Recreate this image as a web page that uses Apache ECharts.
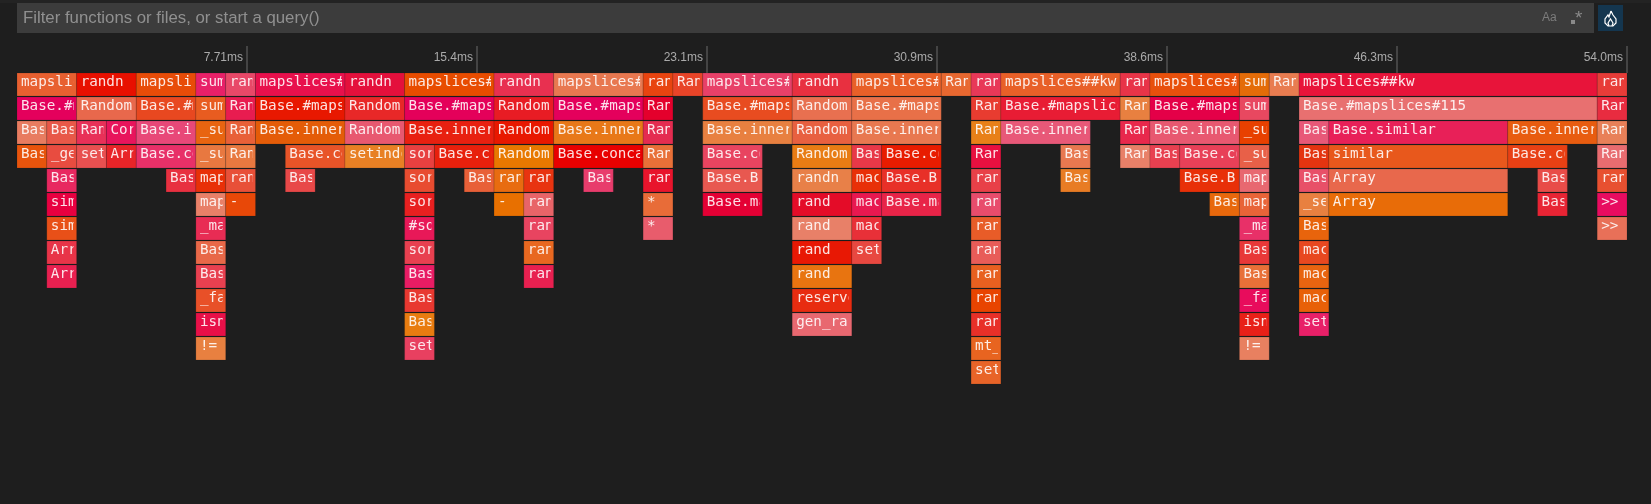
<!DOCTYPE html>
<html><head><meta charset="utf-8">
<style>html,body{margin:0;padding:0;background:#1e1e1e}#c{width:1651px;height:504px}</style>
<script src="https://cdn.jsdelivr.net/npm/echarts@6/dist/echarts.min.js"></script>
</head><body><div id="c"></div>
<script>
const tickValues=[7.714,15.429,23.143,30.857,38.571,46.286,54.0];
const tickLabels=['7.71ms','15.4ms','23.1ms','30.9ms','38.6ms','46.3ms','54.0ms'];
// each frame: [start sample, end sample, name, colour]
const row0=[[0,2,'mapslices##kw','#e86030'],[2,4,'randn','#e81000'],[4,6,'mapslices##kw','#e84c08'],[6,7,'sum','#e82068'],[7,8,'randn','#e84868'],[8,11,'mapslices##kw','#e8104c'],[11,13,'randn','#e4103c'],[13,16,'mapslices##kw','#e84c00'],[16,18,'randn','#e83050'],[18,21,'mapslices##kw','#e87850'],[21,22,'randn','#e84410'],[22,23,'Random','#e84428'],[23,26,'mapslices##kw','#e84068'],[26,28,'randn','#e83040'],[28,31,'mapslices##kw','#e86028'],[31,32,'Random','#e86830'],[32,33,'randn','#e83858'],[33,37,'mapslices##kw','#e86028'],[37,38,'randn','#e83448'],[38,41,'mapslices##kw','#e8500c'],[41,42,'sum','#e46c08'],[42,43,'Random','#e87c50'],[43,53,'mapslices##kw','#e8143a'],[53,54,'randn','#e83c38']];
const row1=[[0,2,'Base.#mapslices#115','#e4005c'],[2,4,'Random','#e8684c'],[4,6,'Base.#mapslices#115','#e84820'],[6,7,'sum','#e85c20'],[7,8,'Random','#e81c50'],[8,11,'Base.#mapslices#115','#e81800'],[11,13,'Random','#e82828'],[13,16,'Base.#mapslices#115','#e4005a'],[16,18,'Random','#e81c24'],[18,21,'Base.#mapslices#115','#e4005c'],[21,22,'Random','#e4002c'],[23,26,'Base.#mapslices#115','#e84c20'],[26,28,'Random','#e87050'],[28,31,'Base.#mapslices#115','#e87048'],[32,33,'Random','#e83c30'],[33,37,'Base.#mapslices#115','#e81c34'],[37,38,'Random','#e88040'],[38,41,'Base.#mapslices#115','#e40048'],[41,42,'sum','#e84860'],[43,53,'Base.#mapslices#115','#e87070'],[53,54,'Random','#e82c40']];
const row2=[[0,1,'Base.inner','#e87c60'],[1,2,'Base.similar','#e85848'],[2,3,'Random','#e83058'],[3,4,'Core','#e8145c'],[4,6,'Base.inner','#e84878'],[6,7,'_sum','#e86410'],[7,8,'Random','#e86038'],[8,11,'Base.inner_mapslices','#e45c08'],[11,13,'Random','#e85870'],[13,16,'Base.inner_mapslices','#e82010'],[16,18,'Random','#e81800'],[18,21,'Base.inner_mapslices','#e87818'],[21,22,'Random','#e42c50'],[23,26,'Base.inner_mapslices','#e88040'],[26,28,'Random','#e86040'],[28,31,'Base.inner_mapslices','#e87850'],[32,33,'Random','#e88018'],[33,36,'Base.inner_mapslices','#e85878'],[37,38,'Random','#e8284c'],[38,41,'Base.inner_mapslices','#e85870'],[41,42,'_sum','#e84000'],[43,44,'Base.similar','#e85878'],[44,50,'Base.similar','#e82058'],[50,53,'Base.inner_mapslices','#e85c10'],[53,54,'Random','#e88058']];
const row3=[[0,1,'Base.concat','#e8540c'],[1,2,'_get','#e84c40'],[2,3,'setindex','#e85050'],[3,4,'Array','#e82428'],[4,6,'Base.concat','#e83068'],[6,7,'_sum','#e87840'],[7,8,'Random','#e87840'],[9,11,'Base.concat','#e85428'],[11,13,'setindex','#e88024'],[13,14,'sort','#e84040'],[14,16,'Base.concat','#e8200c'],[16,18,'Random','#e87800'],[18,21,'Base.concat','#e80000'],[21,22,'Random','#e87038'],[23,25,'Base.concat','#e84460'],[26,28,'Random','#e87c14'],[28,29,'Base.concat','#e83848'],[29,31,'Base.concat','#e81c00'],[32,33,'Random','#e81040'],[35,36,'Base.concat','#e87850'],[37,38,'Random','#e88068'],[38,39,'Base.concat','#e84050'],[39,41,'Base.concat','#e84058'],[41,42,'_sum','#e86048'],[43,44,'Base.similar','#e43410'],[44,50,'similar','#e8581c'],[50,52,'Base.concat','#e84014'],[53,54,'Random','#e86c70']];
const row4=[[1,2,'Base.similar','#e82860'],[5,6,'Base.Broadcast','#e83040'],[6,7,'mapreduce','#e83008'],[7,8,'randn','#e85038'],[9,10,'Base.Broadcast','#e84848'],[13,14,'sort','#e84c30'],[15,16,'Base.Broadcast','#e86038'],[16,17,'randn','#e86c10'],[17,18,'randn','#e83410'],[19,20,'Base.Broadcast','#e83c6c'],[21,22,'randn','#e8142c'],[23,25,'Base.Broadcast','#e85850'],[26,28,'randn','#e88048'],[28,29,'macro','#e83008'],[29,31,'Base.Broadcast','#e83028'],[32,33,'randn','#e84048'],[35,36,'Base.Broadcast','#e87c24'],[39,41,'Base.Broadcast','#e83008'],[41,42,'mapreduce','#e86870'],[43,44,'Base.similar','#e85068'],[44,50,'Array','#e8684c'],[51,52,'Base.Broadcast','#e84c48'],[53,54,'randn','#e85030']];
const row5=[[1,2,'similar','#e80040'],[6,7,'mapreduce','#e88068'],[7,8,'-','#e84808'],[13,14,'sort','#e82020'],[16,17,'-','#e87000'],[17,18,'randn','#e86468'],[21,22,'*','#e86c38'],[23,25,'Base.materialize','#e40034'],[26,28,'rand','#e40c28'],[28,29,'macro','#e81850'],[29,31,'Base.materialize','#e82448'],[32,33,'randn','#e84c6c'],[40,41,'Base.materialize','#e8680c'],[41,42,'mapreduce','#e86438'],[43,44,'_setindex','#e88040'],[44,50,'Array','#e86c08'],[51,52,'Base.materialize','#e82434'],[53,54,'>>','#e80c60']];
const row6=[[1,2,'similar','#e85018'],[6,7,'_mapreduce','#e82c54'],[13,14,'#sort','#e81858'],[17,18,'randn','#e84460'],[21,22,'*','#e85c6c'],[26,28,'rand','#e88068'],[28,29,'macro','#e83038'],[32,33,'randn','#e85c28'],[41,42,'_mapreduce','#e83068'],[43,44,'Base.macro','#e8640c'],[53,54,'>>','#e87058']];
const row7=[[1,2,'Array','#e83448'],[6,7,'Base.mapreduce','#e86848'],[13,14,'sort','#e84050'],[17,18,'randn','#e86820'],[26,28,'rand','#e81804'],[28,29,'setindex','#e84840'],[32,33,'randn','#e85c58'],[41,42,'Base.mapreduce','#e83838'],[43,44,'macro','#e84820']];
const row8=[[1,2,'Array','#e82050'],[6,7,'Base.mapreduce','#e84050'],[13,14,'Base.sort','#e81c64'],[17,18,'randn','#e82050'],[26,28,'rand','#e87410'],[32,33,'randn','#e86020'],[41,42,'Base.mapreduce','#e87038'],[43,44,'macro','#e86410']];
const row9=[[6,7,'_falses','#e85028'],[13,14,'Base.sort','#e83830'],[26,28,'reserve','#e82c10'],[32,33,'randn','#e84400'],[41,42,'_falses','#e80c5c'],[43,44,'macro','#e86008']];
const row10=[[6,7,'isnan','#e81048'],[13,14,'Base.sort','#e87c10'],[26,28,'gen_rand','#e86870'],[32,33,'randn','#e83028'],[41,42,'isnan','#e82018'],[43,44,'setindex','#e82068']];
const row11=[[6,7,'!=','#e88040'],[13,14,'setindex','#e84060'],[32,33,'mt_','#e86420'],[41,42,'!=','#e88060']];
const row12=[[32,33,'setindex','#e86428']];
const rows=[row0,row1,row2,row3,row4,row5,row6,row7,row8,row9,row10,row11,row12];
const frames=[];
rows.forEach((r,d)=>r.forEach(f=>frames.push([f[0],d,f[1],f[2],f[3]])));

const chart=echarts.init(document.getElementById('c'),null,{renderer:'canvas'});
chart.setOption({
 animation:false,backgroundColor:'#1e1e1e',
 grid:{left:17,top:73,width:1610,height:408},
 xAxis:{type:'value',position:'top',min:0,max:54,
  axisLine:{show:false},splitLine:{show:false},
  axisTick:{show:true,customValues:tickValues,length:27,lineStyle:{color:'#444444',width:2}},
  axisLabel:{show:true,customValues:tickValues,formatter:(v)=>tickLabels[tickValues.indexOf(v)],
    color:'#aaaaaa',fontFamily:'Liberation Sans',fontSize:12,align:'right',verticalAlign:'middle',margin:15,padding:[0,4,0,0],showMaxLabel:true}},
 yAxis:{type:'value',inverse:true,min:0,max:17,show:false},
 series:[{type:'custom',clip:false,data:frames,
  encode:{x:[0,2],y:1},
  renderItem(params,api){
   const a=api.coord([api.value(0),api.value(1)]),b=api.coord([api.value(2),api.value(1)+1]);
   const w=b[0]-a[0],h=b[1]-a[1]-1;
   return {type:'group',children:[
    {type:'rect',shape:{x:a[0],y:a[1],width:w,height:h},
     style:{fill:api.value(4),stroke:'rgba(30,30,30,0.15)',lineWidth:1}},
    {type:'text',x:a[0]+4,y:a[1]+9,
     style:{text:String(api.value(3)),fill:'rgba(255,255,255,0.88)',font:'14.25px "DejaVu Sans Mono"',textAlign:'left',textVerticalAlign:'middle'},
     clipPath:{type:'rect',shape:{x:0,y:-10,width:w-7,height:24}}}
   ]};
  }}],
 graphic:[
  {type:'rect',shape:{x:0,y:0,width:1651,height:3},style:{fill:'#232323'},silent:true},
  {type:'rect',shape:{x:17,y:3,width:1577,height:30},style:{fill:'#3c3c3c'},silent:true},
  {type:'text',x:23,y:18,style:{text:'Filter functions or files, or start a query()',fill:'#909090',font:'16.8px "Liberation Sans"',textVerticalAlign:'middle'}},
  {type:'text',x:1542,y:18,style:{text:'Aa',fill:'#7c7c7c',font:'12px "Liberation Sans"',textVerticalAlign:'middle'}},
  {type:'rect',shape:{x:1571,y:20,width:4,height:4},style:{fill:'#8a8a8a'},silent:true},
  {type:'text',x:1575,y:19,style:{text:'*',fill:'#8a8a8a',font:'19px "Liberation Sans"',textVerticalAlign:'middle'}},
  {type:'rect',shape:{x:1598,y:5,width:25,height:26},style:{fill:'#14364f'},silent:true},
  {type:'polyline',shape:{points:[[1611,11],[1613,15],[1616,19],[1616,23],[1613,26],[1608,26],[1605,23],[1605,19],[1608,15],[1609,17],[1611,11]]},style:{fill:'none',stroke:'#ffffff',lineWidth:1.2},silent:true},
  {type:'polyline',shape:{points:[[1609,26],[1608,23],[1610.5,19],[1613,23],[1612,26]]},style:{fill:'none',stroke:'#ffffff',lineWidth:1.2},silent:true}
 ]
});
</script></body></html>
